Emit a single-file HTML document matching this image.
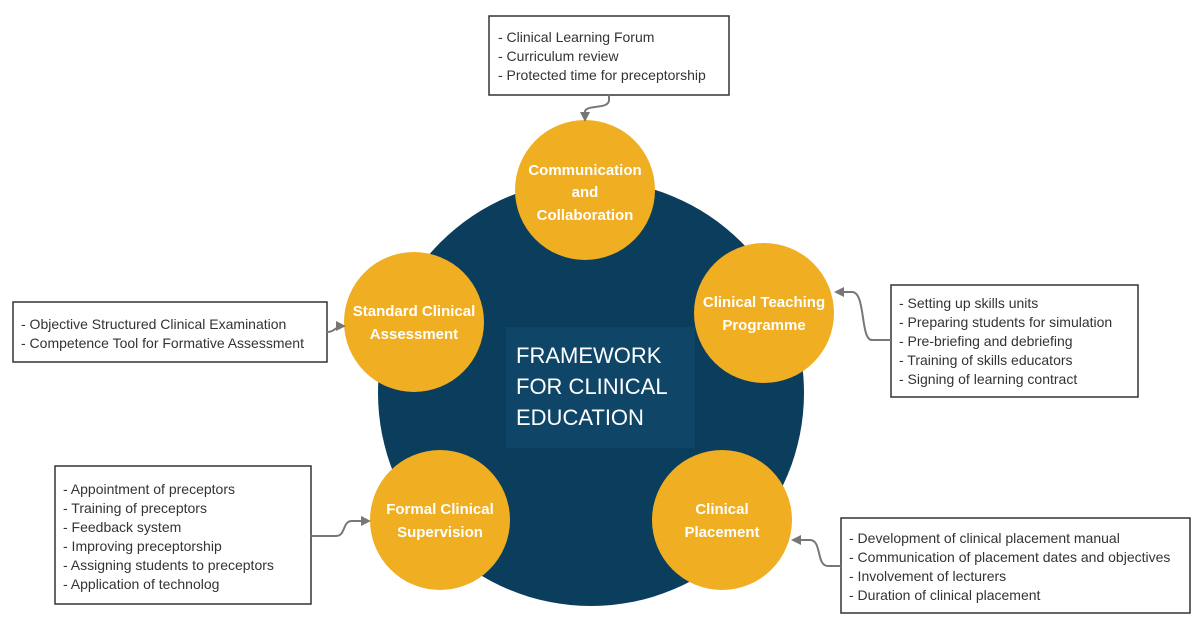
<!DOCTYPE html>
<html><head><meta charset="utf-8"><style>
html,body{margin:0;padding:0;background:#fff;}
svg{display:block;font-family:"Liberation Sans",sans-serif;}
.b{font-size:14px;fill:#333;}
.c{font-size:15px;fill:#fff;font-weight:bold;text-anchor:middle;}
</style></head><body>
<svg width="1200" height="626" viewBox="0 0 1200 626">
<defs><marker id="a" markerWidth="10" markerHeight="10" refX="8" refY="5" orient="auto" markerUnits="userSpaceOnUse"><path d="M0,0 L10,5 L0,10 z" fill="#777"/></marker></defs>
<circle cx="591" cy="393" r="213" fill="#0b3e5c"/>
<rect x="506" y="327" width="189" height="121" fill="#0f4667"/>
<text x="516" y="363" font-size="22" fill="#fff">FRAMEWORK</text>
<text x="516" y="394" font-size="22" fill="#fff">FOR CLINICAL</text>
<text x="516" y="425" font-size="22" fill="#fff">EDUCATION</text>

<g fill="#f0ae22">
<circle cx="585" cy="190" r="70"/><circle cx="764" cy="313" r="70"/>
<circle cx="414" cy="322" r="70"/><circle cx="440" cy="520" r="70"/>
<circle cx="722" cy="520" r="70"/></g>
<text class="c" x="585" y="175">Communication</text><text class="c" x="585" y="197">and</text><text class="c" x="585" y="220">Collaboration</text>
<text class="c" x="764" y="307">Clinical Teaching</text><text class="c" x="764" y="330">Programme</text>
<text class="c" x="414" y="316">Standard Clinical</text><text class="c" x="414" y="339">Assessment</text>
<text class="c" x="440" y="514">Formal Clinical</text><text class="c" x="440" y="537">Supervision</text>
<text class="c" x="722" y="514">Clinical</text><text class="c" x="722" y="537">Placement</text>

<g fill="#fff" stroke="#333" stroke-width="1.5">
<rect x="489" y="16" width="240" height="79"/>
<rect x="13" y="302" width="314" height="60"/>
<rect x="891" y="285" width="247" height="112"/>
<rect x="55" y="466" width="256" height="138"/>
<rect x="841" y="518" width="349" height="95"/></g>
<text class="b"><tspan x="498" y="42">- Clinical Learning Forum</tspan><tspan x="498" y="61">- Curriculum review</tspan><tspan x="498" y="80">- Protected time for preceptorship</tspan></text>
<text class="b"><tspan x="21" y="329">- Objective Structured Clinical Examination</tspan><tspan x="21" y="348">- Competence Tool for Formative Assessment</tspan></text>
<text class="b"><tspan x="899" y="308">- Setting up skills units</tspan><tspan x="899" y="327">- Preparing students for simulation</tspan><tspan x="899" y="346">- Pre-briefing and debriefing</tspan><tspan x="899" y="365">- Training of skills educators</tspan><tspan x="899" y="384">- Signing of learning contract</tspan></text>
<text class="b"><tspan x="63" y="494">- Appointment of preceptors</tspan><tspan x="63" y="513">- Training of preceptors</tspan><tspan x="63" y="532">- Feedback system</tspan><tspan x="63" y="551">- Improving preceptorship</tspan><tspan x="63" y="570">- Assigning students to preceptors</tspan><tspan x="63" y="589">- Application of technolog</tspan></text>
<text class="b"><tspan x="849" y="543">- Development of clinical placement manual</tspan><tspan x="849" y="562">- Communication of placement dates and objectives</tspan><tspan x="849" y="581">- Involvement of lecturers</tspan><tspan x="849" y="600">- Duration of clinical placement</tspan></text>

<g fill="none" stroke="#777" stroke-width="2" marker-end="url(#a)">
<path d="M609,95 V100 C609,110 585,104 585,112 V120"/>
<path d="M327,332 C335,332 335,326 344,326"/>
<path d="M891,340 H872 C860,340 866,292 852,292 H836"/>
<path d="M311,536 H336 C346,536 342,521 352,521 H369"/>
<path d="M841,566 H828 C816,566 822,540 810,540 H793"/>
</g>
</svg>
</body></html>
